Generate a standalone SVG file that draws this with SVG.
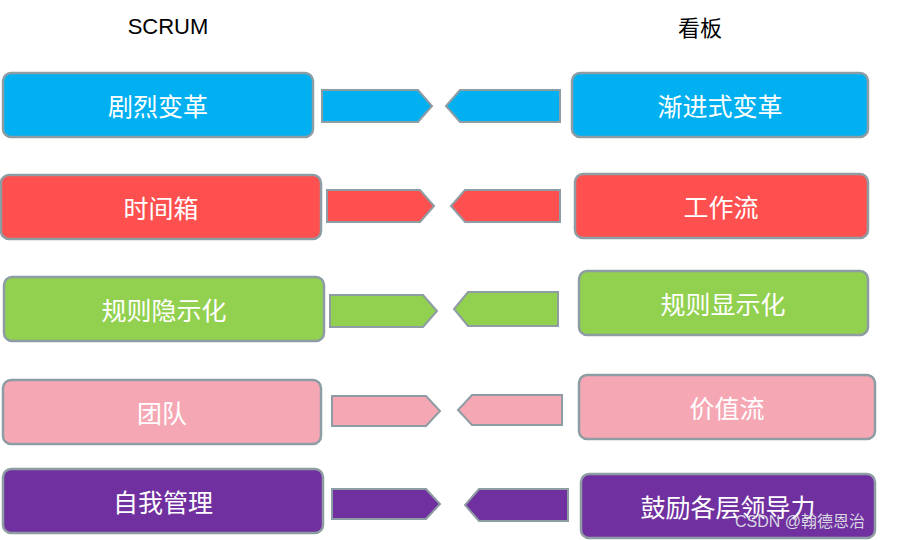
<svg xmlns="http://www.w3.org/2000/svg" width="922" height="540" viewBox="0 0 922 540">
<style>
.b{stroke:#8e9ca3;stroke-width:2.5}
.a{stroke:#8e9ca3;stroke-width:2}
.t{font-family:"Noto Sans CJK SC","Liberation Serif",serif;font-size:25px;fill:#fff;text-anchor:middle;dominant-baseline:central}
.h{font-family:"Liberation Sans","Noto Sans CJK SC",sans-serif;font-size:22px;fill:#000;text-anchor:middle}
.blue{fill:#00b0f0}.red{fill:#ff5050}.green{fill:#92d050}.pink{fill:#f6a7b4}.purple{fill:#7030a0}
</style>
<rect width="922" height="540" fill="#fff"/>
<text class="h" x="168" y="34">SCRUM</text>
<text class="h" x="700" y="36">看板</text>
<g id="connectors">
<polygon class="a blue" points="322,90 418,90 432,106 418,122 322,122"/>
<polygon class="a blue" points="560,90 460,90 446,106 460,122 560,122"/>
<polygon class="a red" points="327,190 420,190 434,206 420,222 327,222"/>
<polygon class="a red" points="560,190 465,190 451,206 465,222 560,222"/>
<polygon class="a green" points="330,295 423,295 437,311 423,327 330,327"/>
<polygon class="a green" points="558,292 468,292 454,309 468,326 558,326"/>
<polygon class="a pink" points="332,396 426,396 440,411 426,426 332,426"/>
<polygon class="a pink" points="562,395 472,395 458,410 472,425 562,425"/>
<polygon class="a purple" points="332,489 426,489 440,504 426,519 332,519"/>
<polygon class="a purple" points="568,489 479,489 465,505 479,521 568,521"/>
</g>
<g id="n1"><rect class="b blue" x="3" y="73" width="310" height="64" rx="8"/><text class="t" x="158" y="105">剧烈变革</text></g>
<g id="n2"><rect class="b blue" x="572" y="73" width="296" height="64" rx="8"/><text class="t" x="720" y="105">渐进式变革</text></g>
<g id="n3"><rect class="b red" x="1" y="175" width="320" height="64" rx="8"/><text class="t" x="161" y="207">时间箱</text></g>
<g id="n4"><rect class="b red" x="575" y="174" width="293" height="64" rx="8"/><text class="t" x="721" y="206">工作流</text></g>
<g id="n5"><rect class="b green" x="4" y="277" width="320" height="64" rx="8"/><text class="t" x="164" y="309">规则隐示化</text></g>
<g id="n6"><rect class="b green" x="579" y="271" width="289" height="64" rx="8"/><text class="t" x="723" y="303">规则显示化</text></g>
<g id="n7"><rect class="b pink" x="3" y="380" width="318" height="64" rx="8"/><text class="t" x="162" y="412">团队</text></g>
<g id="n8"><rect class="b pink" x="579" y="375" width="296" height="64" rx="8"/><text class="t" x="727" y="407">价值流</text></g>
<g id="n9"><rect class="b purple" x="3" y="469" width="320" height="64" rx="8"/><text class="t" x="163" y="501">自我管理</text></g>
<g id="n10"><rect class="b purple" x="581" y="474" width="294" height="64" rx="8"/><text class="t" x="728" y="506">鼓励各层领导力</text></g>
<text x="735" y="527" font-family="Liberation Sans,Noto Sans CJK SC,sans-serif" font-size="16" fill="#d8d8e0">CSDN @翰德恩治</text>
</svg>
